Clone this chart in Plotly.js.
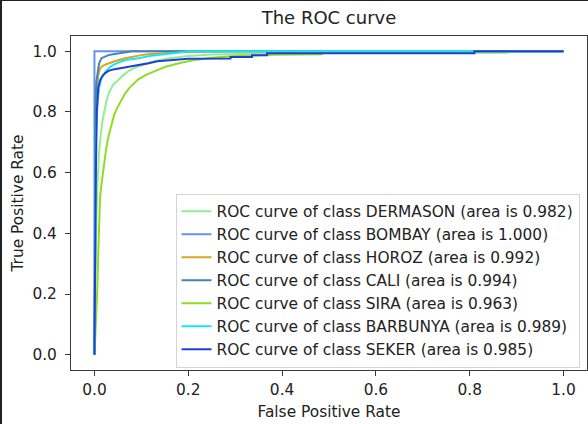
<!DOCTYPE html>
<html>
<head>
<meta charset="utf-8">
<script src="https://cdn.plot.ly/plotly-3.0.1.min.js"></script>
<style>
  html, body { margin: 0; padding: 0; background: #202124; width: 588px; height: 424px; overflow: hidden; }
  #roc { position: absolute; left: 2px; top: 1px; width: 586px; height: 423px; background: #fff; }
</style>
</head>
<body>
<div id="roc"></div>
<script>
// class names, areas and colours (same order as the legend)
const classNames = ['DERMASON', 'BOMBAY', 'HOROZ', 'CALI', 'SIRA', 'BARBUNYA', 'SEKER'];
const classAreas = ['0.982', '1.000', '0.992', '0.994', '0.963', '0.989', '0.985'];
const classColors = ['#90ee90', '#6495ed', '#daa520', '#4682b4', '#8fdc22', '#1de4f4', '#1f3fd6'];

// ROC points (false positive rate / true positive rate)
const fprDermason = [0, 0.002, 0.004, 0.006, 0.008, 0.010, 0.013, 0.017, 0.022, 0.027, 0.033, 0.040, 0.051, 0.062, 0.075, 0.090, 0.110, 0.130, 0.160, 0.200, 0.250, 0.350, 0.500, 0.880, 0.880, 1.0];
const tprDermason = [0, 0.30, 0.45, 0.55, 0.62, 0.67, 0.72, 0.77, 0.81, 0.845, 0.87, 0.89, 0.905, 0.922, 0.937, 0.948, 0.958, 0.968, 0.977, 0.984, 0.989, 0.992, 0.994, 0.995, 1, 1];

const fprBombay = [0, 0, 1];
const tprBombay = [0, 1, 1];

const fprHoroz = [0, 0.001, 0.003, 0.005, 0.008, 0.012, 0.018, 0.025, 0.030, 0.040, 0.050, 0.065, 0.080, 0.100, 0.115, 0.140, 0.170, 0.200, 0.300, 1.0];
const tprHoroz = [0, 0.50, 0.80, 0.88, 0.92, 0.944, 0.952, 0.957, 0.960, 0.965, 0.970, 0.977, 0.982, 0.987, 0.990, 0.993, 0.996, 0.998, 1, 1];

const fprCali = [0, 0.001, 0.002, 0.004, 0.007, 0.010, 0.015, 0.022, 0.030, 0.040, 0.057, 0.070, 0.080, 1.0];
const tprCali = [0, 0.60, 0.82, 0.90, 0.94, 0.96, 0.977, 0.982, 0.987, 0.990, 0.994, 0.997, 1, 1];

const fprSira = [0, 0.003, 0.006, 0.008, 0.010, 0.012, 0.014, 0.018, 0.021, 0.025, 0.030, 0.036, 0.042, 0.049, 0.057, 0.065, 0.075, 0.085, 0.094, 0.110, 0.130, 0.150, 0.180, 0.210, 0.250, 0.300, 0.380, 0.485, 0.485, 1.0];
const tprSira = [0, 0.10, 0.21, 0.33, 0.46, 0.52, 0.55, 0.60, 0.64, 0.68, 0.72, 0.76, 0.79, 0.815, 0.84, 0.86, 0.88, 0.895, 0.908, 0.922, 0.935, 0.948, 0.960, 0.970, 0.978, 0.984, 0.988, 0.990, 1, 1];

const fprBarbunya = [0, 0.001, 0.003, 0.006, 0.010, 0.015, 0.020, 0.030, 0.040, 0.055, 0.070, 0.094, 0.120, 0.150, 0.180, 0.200, 1.0];
const tprBarbunya = [0, 0.45, 0.70, 0.82, 0.88, 0.91, 0.925, 0.944, 0.955, 0.965, 0.972, 0.977, 0.985, 0.990, 0.995, 1, 1];

const fprSeker = [0, 0.001, 0.003, 0.005, 0.008, 0.012, 0.017, 0.023, 0.030, 0.040, 0.057, 0.080, 0.100, 0.115, 0.134, 0.160, 0.200, 0.290, 0.290, 0.336, 0.336, 0.368, 0.368, 0.810, 0.810, 1.0];
const tprSeker = [0, 0.30, 0.60, 0.80, 0.88, 0.905, 0.918, 0.928, 0.935, 0.940, 0.944, 0.950, 0.956, 0.960, 0.967, 0.971, 0.975, 0.976, 0.981, 0.981, 0.987, 0.987, 0.993, 0.993, 1, 1];

const fprAll = [fprDermason, fprBombay, fprHoroz, fprCali, fprSira, fprBarbunya, fprSeker];
const tprAll = [tprDermason, tprBombay, tprHoroz, tprCali, tprSira, tprBarbunya, tprSeker];

const xTicks = [0, 0.2, 0.4, 0.6, 0.8, 1.0];
const yTicks = [0, 0.2, 0.4, 0.6, 0.8, 1.0];

const fontFamily = '"DejaVu Sans", Verdana, sans-serif';
const textSize = 15.4;

const traces = classNames.map((name, i) => ({
    x: fprAll[i],
    y: tprAll[i],
    type: 'scatter',
    mode: 'lines',
    name: `ROC curve of class ${name} (area is ${classAreas[i]})`,
    legendgroup: name,
    line: { color: classColors[i], width: 2 },
    hoverinfo: 'skip'
}));

const axisBase = {
    showline: true, mirror: true, linecolor: '#3a3a3a', linewidth: 1,
    showgrid: false, zeroline: false,
    ticks: 'outside', ticklen: 5, tickwidth: 1, tickcolor: '#3a3a3a',
    tickformat: '.1f',
    tickfont: { family: fontFamily, size: textSize, color: '#222' },
    fixedrange: true
};

const layout = {
    width: 586, height: 423,
    paper_bgcolor: '#fff', plot_bgcolor: '#fff',
    font: { family: fontFamily, color: '#222' },
    margin: { l: 69, r: 1, t: 35, b: 54 },
    showlegend: true,
    title: {
        text: 'The ROC curve',
        font: { family: fontFamily, size: 18, color: '#222' },
        x: 0.5, xref: 'paper', y: 1 - 17 / 423, yref: 'container', yanchor: 'middle'
    },
    xaxis: {
        ...axisBase,
        range: [-0.05, 1.05],
        tickvals: xTicks,
        ticklabelstandoff: 1,
        title: { text: 'False Positive Rate', font: { family: fontFamily, size: textSize, color: '#222' }, standoff: 7 }
    },
    yaxis: {
        ...axisBase,
        range: [-0.05, 1.05],
        tickvals: yTicks,
        ticklabelstandoff: 5,
        title: { text: 'True Positive Rate', font: { family: fontFamily, size: textSize, color: '#222' }, standoff: 5 }
    },
    legend: {
        x: 0.9855, xanchor: 'right', xref: 'paper',
        y: 0.007, yanchor: 'bottom', yref: 'paper',
        bgcolor: 'rgba(255,255,255,0.85)',
        bordercolor: '#d4d4d4', borderwidth: 1,
        font: { family: fontFamily, size: textSize, color: '#222' },
        traceorder: 'normal',
        tracegroupgap: 0
    }
};

Plotly.newPlot('roc', traces, layout, { displayModeBar: false, staticPlot: true });
</script>
</body>
</html>
